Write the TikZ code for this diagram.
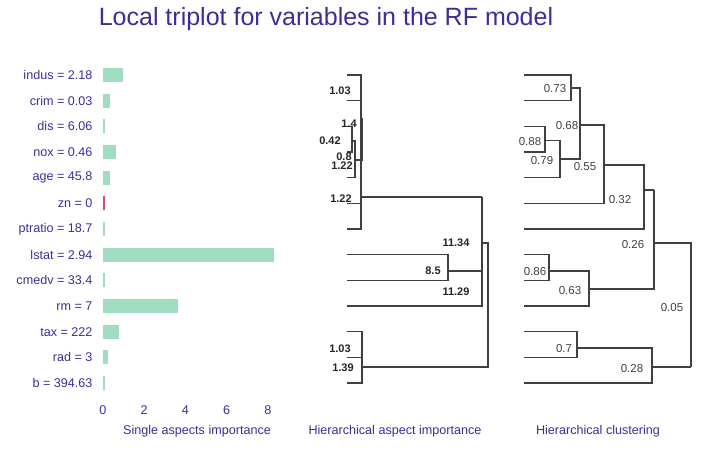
\documentclass[tikz,border=0pt]{standalone}
\usepackage{fontspec}
\setmainfont{Liberation Sans}
\definecolor{ind}{HTML}{3B2E98}
\definecolor{mint}{HTML}{A0DCC0}
\definecolor{rd}{HTML}{E0457B}
\def\rr#1{(75+25.67*#1)}
\begin{document}
\begin{tikzpicture}[x=1pt,y=-1pt,
  lab/.style={font=\fontsize{12.6}{14}\selectfont,text=ind},
  dl/.style={font=\fontsize{11.5}{12}\selectfont,text=black!75,inner sep=1pt},
  db/.style={font=\fontsize{11}{12}\selectfont\bfseries,text=black!85,inner sep=1pt},
  den/.style={draw=black!75,line width=1.1pt}]
\useasboundingbox (0,0) rectangle (720,453);
\node[font=\fontsize{25}{28}\selectfont,text=ind] (title) at (326,19) {Local triplot for variables in the RF model};
% bars
\foreach \n/\v [count=\i from 0] in {indus = 2.18/0.95,crim = 0.03/0.35,dis = 6.06/0.1,nox = 0.46/0.65,age = 45.8/0.35,zn = 0/0,ptratio = 18.7/0.1,lstat = 2.94/8.3,cmedv = 33.4/0.1,rm = 7/3.65,tax = 222/0.8,rad = 3/0.25,b = 394.63/0.1}{
  \node[lab,anchor=east] (l\i) at (96,{75+25.67*\i}) {\n};
  \fill[mint] (103,{75+25.67*\i-7}) rectangle ({103+20.6*\v},{75+25.67*\i+7});
}
\fill[rd] (102.5,{75+25.67*5-7}) rectangle (104.5,{75+25.67*5+7});
\foreach \t in {0,2,4,6,8}{\node[lab] (t\t) at ({103+20.6*\t},410) {\t};}
\node[lab] (xa) at (197,431) {Single aspects importance};
\node[lab] (xb) at (395,431) {Hierarchical aspect importance};
\node[lab] (xc) at (598,431) {Hierarchical clustering};
% middle dendrogram
\draw[den] (347,{\rr{0}}) -| (361,{\rr{1}}) -- (347,{\rr{1}});
\draw[den] (347,{\rr{2}}) -| (352,{\rr{3}}) -- (347,{\rr{3}});
\draw[den] (352,141) -| (355,{\rr{4}}) -- (347,{\rr{4}});
\draw[den] (355,160) -- (362,160) -- (362,118);
\draw[den] (361,88) -- (361,{\rr{6}}) -- (347,{\rr{6}});
\draw[den] (347,{\rr{5}}) -- (361,{\rr{5}});
\draw[den] (361,197) -- (482,197);
\draw[den] (347,{\rr{7}}) -| (448,{\rr{8}}) -- (347,{\rr{8}});
\draw[den] (448,271) -- (482,271);
\draw[den] (482,197) -- (482,{\rr{9}}) -- (347,{\rr{9}});
\draw[den,line width=2pt] (482,270) -- (482,290);
\draw[den] (482,243) -| (488,367) -- (362,367);
\draw[den] (347,{\rr{10}}) -| (362,{\rr{12}}) -- (347,{\rr{12}});
\draw[den] (347,{\rr{11}}) -- (362,{\rr{11}});
\node[db] (m1) at (340,91) {1.03};
\node[db] (m2) at (349,124) {1.4};
\node[db] (m3) at (330,141) {0.42};
\node[db] (m4) at (344,157) {0.8};
\node[db] (m5) at (342,166) {1.22};
\node[db] (m6) at (341,199) {1.22};
\node[db] (m7) at (456,243) {11.34};
\node[db] (m8) at (433,271) {8.5};
\node[db] (m9) at (456,292) {11.29};
\node[db] (m10) at (340,349) {1.03};
\node[db] (m11) at (343,368) {1.39};
% right dendrogram
\draw[den] (524,{\rr{0}}) -| (571,{\rr{1}}) -- (524,{\rr{1}});
\draw[den] (524,{\rr{2}}) -| (545,{\rr{3}}) -- (524,{\rr{3}});
\draw[den] (545,140.5) -| (560,{\rr{4}}) -- (524,{\rr{4}});
\draw[den] (571,88) -| (580,159) -- (560,159);
\draw[den] (580,125) -| (604,{\rr{5}}) -- (524,{\rr{5}});
\draw[den] (604,165) -| (644,{\rr{6}}) -- (524,{\rr{6}});
\draw[den] (644,190) -- (654,190);
\draw[den] (524,{\rr{7}}) -| (549,{\rr{8}}) -- (524,{\rr{8}});
\draw[den] (549,271) -| (589,{\rr{9}}) -- (524,{\rr{9}});
\draw[den] (589,289) -| (654,190);
\draw[den] (654,243) -| (691,367);
\draw[den] (524,{\rr{10}}) -| (577,{\rr{11}}) -- (524,{\rr{11}});
\draw[den] (577,348) -| (652,{\rr{12}}) -- (524,{\rr{12}});
\draw[den] (652,367) -- (691,367);
\node[dl] (c1) at (555,89) {0.73};
\node[dl] (c2) at (567,126) {0.68};
\node[dl] (c3) at (530,142) {0.88};
\node[dl] (c4) at (542,161) {0.79};
\node[dl] (c5) at (585,167) {0.55};
\node[dl] (c6) at (620,200) {0.32};
\node[dl] (c7) at (633,245) {0.26};
\node[dl] (c8) at (535,272) {0.86};
\node[dl] (c9) at (570,291) {0.63};
\node[dl] (c10) at (672,308) {0.05};
\node[dl] (c11) at (564,349) {0.7};
\node[dl] (c12) at (632,369) {0.28};
\end{tikzpicture}
\end{document}
